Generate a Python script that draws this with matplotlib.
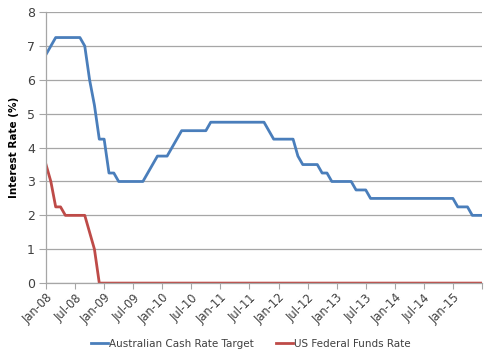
import numpy as np
import matplotlib.pyplot as plt
import matplotlib.transforms as mtransforms

# monthly values, Jan-08 .. Jul-15
aus_cash_rate = [
    6.75, 7.00, 7.25, 7.25, 7.25, 7.25, 7.25, 7.25, 7.00, 6.00, 5.25, 4.25,  # 2008
    4.25, 3.25, 3.25, 3.00, 3.00, 3.00, 3.00, 3.00, 3.00, 3.25, 3.50, 3.75,  # 2009
    3.75, 3.75, 4.00, 4.25, 4.50, 4.50, 4.50, 4.50, 4.50, 4.50, 4.75, 4.75,  # 2010
    4.75, 4.75, 4.75, 4.75, 4.75, 4.75, 4.75, 4.75, 4.75, 4.75, 4.50, 4.25,  # 2011
    4.25, 4.25, 4.25, 4.25, 3.75, 3.50, 3.50, 3.50, 3.50, 3.25, 3.25, 3.00,  # 2012
    3.00, 3.00, 3.00, 3.00, 2.75, 2.75, 2.75, 2.50, 2.50, 2.50, 2.50, 2.50,  # 2013
    2.50, 2.50, 2.50, 2.50, 2.50, 2.50, 2.50, 2.50, 2.50, 2.50, 2.50, 2.50,  # 2014
    2.50, 2.25, 2.25, 2.25, 2.00, 2.00, 2.00,                                # 2015
]
us_fed_rate = [
    3.50, 3.00, 2.25, 2.25, 2.00, 2.00, 2.00, 2.00, 2.00, 1.50, 1.00, 0.00,
] + [0.00] * (len(aus_cash_rate) - 12)

tick_labels = ["Jan-08", "Jul-08", "Jan-09", "Jul-09", "Jan-10", "Jul-10",
               "Jan-11", "Jul-11", "Jan-12", "Jul-12", "Jan-13", "Jul-13",
               "Jan-14", "Jul-14", "Jan-15"]

blue = "#4a7ebb"
red = "#be4b48"
grid = "#a6a6a6"
text = "#404040"

months = np.arange(len(aus_cash_rate))

fig = plt.figure(figsize=(5, 3.57), dpi=100)
ax = fig.add_axes([0.092, 0.207, 0.872, 0.759])

ax.plot(months, aus_cash_rate, color=blue, lw=2.0, label="Australian Cash Rate Target",
        solid_joinstyle="round")
ax.plot(months, us_fed_rate, color=red, lw=2.0, label="US Federal Funds Rate",
        solid_joinstyle="round")

ax.set_xlim(0, len(aus_cash_rate) - 1)
ax.set_ylim(0, 8)
ax.set_yticks(range(0, 9))
xt = np.arange(0, len(aus_cash_rate), 6)[: len(tick_labels)].tolist() + [len(aus_cash_rate) - 1]
ax.set_xticks(xt)
ax.set_xticklabels(tick_labels + [""], rotation=45, ha="right", rotation_mode="anchor",
                   fontsize=8.3, color=text)
shift = mtransforms.ScaledTranslation(5 / 100, -3 / 100, fig.dpi_scale_trans)
for lbl in ax.get_xticklabels():
    lbl.set_transform(lbl.get_transform() + shift)

ax.tick_params(axis="y", labelsize=9, colors=text, length=5, width=0.8, pad=3)
ax.tick_params(axis="y", color=grid)
ax.tick_params(axis="x", length=4, width=0.8, color=grid, pad=2)

ax.yaxis.grid(True, color=grid, lw=0.9)
ax.set_axisbelow(True)
for side in ["top", "right"]:
    ax.spines[side].set_visible(False)
for side in ["left", "bottom"]:
    ax.spines[side].set_color(grid)
    ax.spines[side].set_linewidth(0.9)

ax.set_ylabel("Interest Rate (%)", fontsize=7.5, fontweight="bold", color="black", labelpad=6)

ax.legend(loc="center", bbox_to_anchor=(0.47, -0.225), ncol=2, frameon=False,
          fontsize=7.5, handlelength=1.6, handletextpad=0.1, columnspacing=2.2,
          labelcolor=text)

fig.savefig("out.png", dpi=100)
